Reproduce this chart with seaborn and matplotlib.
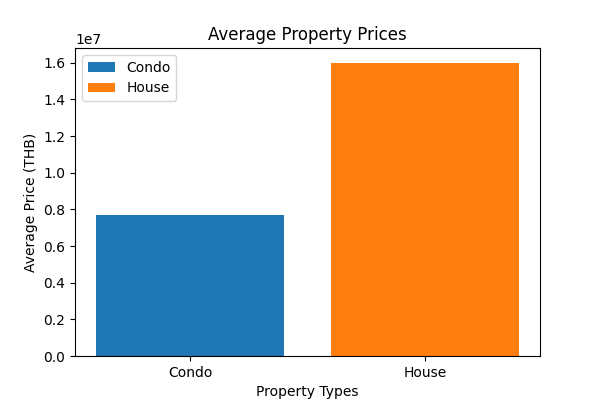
import matplotlib
matplotlib.use("Agg")
import matplotlib.pyplot as plt
import seaborn as sns
import pandas as pd

property_types = ["Condo", "House"]
avg_prices = [7.7e6, 1.6e7]
bar_colors = ["#1f77b4", "#ff7f0e"]

df = pd.DataFrame({"type": property_types, "price": avg_prices})

fig, ax = plt.subplots(figsize=(6, 4), dpi=100)
sns.barplot(data=df, x="type", y="price", hue="type", palette=bar_colors,
            saturation=1, width=0.8, ax=ax, legend=True)
ax.set_xlim(-0.49, 1.49)
handles, labels = ax.get_legend_handles_labels()
ax.legend(handles, labels, loc="upper left")
ax.set_title("Average Property Prices")
ax.set_xlabel("Property Types")
ax.set_ylabel("Average Price (THB)")
fig.tight_layout()
fig.subplots_adjust(left=0.125, right=0.9, bottom=0.11, top=0.88)
fig.savefig("out.png", dpi=100)
